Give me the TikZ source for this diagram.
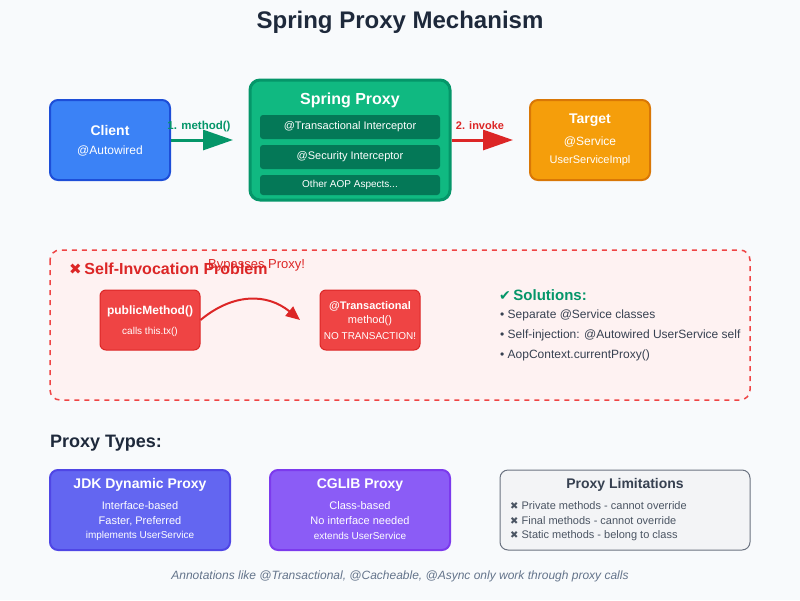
\documentclass[tikz,border=0pt]{standalone}
\usepackage{fontspec}
\setmainfont{Liberation Sans}
\newfontfamily\symfont{DejaVu Sans}
\usetikzlibrary{arrows.meta}
\definecolor{bgc}{HTML}{F8FAFC}
\definecolor{titlec}{HTML}{1E293B}
\definecolor{blue1}{HTML}{3B82F6}
\definecolor{blue2}{HTML}{1D4ED8}
\definecolor{green1}{HTML}{10B981}
\definecolor{green2}{HTML}{059669}
\definecolor{green3}{HTML}{047857}
\definecolor{red1}{HTML}{EF4444}
\definecolor{red2}{HTML}{DC2626}
\definecolor{redbg}{HTML}{FEF2F2}
\definecolor{amber1}{HTML}{F59E0B}
\definecolor{amber2}{HTML}{D97706}
\definecolor{indigo1}{HTML}{6366F1}
\definecolor{indigo2}{HTML}{4F46E5}
\definecolor{violet1}{HTML}{8B5CF6}
\definecolor{violet2}{HTML}{7C3AED}
\definecolor{grayfill}{HTML}{F3F4F6}
\definecolor{grayline}{HTML}{6B7280}
\definecolor{graytext}{HTML}{374151}
\definecolor{graytext2}{HTML}{4B5563}
\definecolor{foot}{HTML}{64748B}
\newcommand{\fs}[1]{\fontsize{#1}{#1}\selectfont}
\tikzset{
  box/.style={draw, line width=2pt, rounded corners=8pt, inner sep=0pt},
  bar/.style={fill=green3, rounded corners=3pt, inner sep=0pt, minimum width=180pt, text=white},
  txt/.style={inner sep=0pt, text=white},
}
\begin{document}
\begin{tikzpicture}[x=1pt,y=-1pt]
\fill[bgc] (0,0) rectangle (800,600);
\useasboundingbox (0,0) rectangle (800,600);
% title
\node[text=titlec, font=\fs{24}\bfseries] (title) at (400,22) {Spring Proxy Mechanism};

% client
\node[box, fill=blue1, draw=blue2, minimum width=120pt, minimum height=80pt] (client) at (110,140) {};
\node[txt, font=\fs{14}\bfseries] (clientt) at (110,130) {Client};
\node[txt, font=\fs{12}] (clienta) at (110,151) {@Autowired};

% spring proxy
\node[box, fill=green1, draw=green2, line width=3pt, rounded corners=10pt, minimum width=200pt, minimum height=120pt] (proxy) at (350,140) {};
\node[txt, font=\fs{16}\bfseries] (proxyt) at (350,100) {Spring Proxy};
\node[bar, minimum height=24pt, font=\fs{11}] (b1) at (350,127) {@Transactional Interceptor};
\node[bar, minimum height=24pt, font=\fs{11}] (b2) at (350,157) {@Security Interceptor};
\node[bar, minimum height=20pt, font=\fs{10}] (b3) at (350,185) {Other AOP Aspects...};

% target
\node[box, fill=amber1, draw=amber2, minimum width=120pt, minimum height=80pt] (target) at (590,140) {};
\node[txt, font=\fs{14}\bfseries] (targett) at (590,120) {Target};
\node[txt, font=\fs{12}] (targets) at (590,142) {@Service};
\node[txt, font=\fs{11}] (targeti) at (590,161) {UserServiceImpl};

% arrows
\coordinate (a1e) at (233,140);
\coordinate (a2e) at (513,140);
\draw[green2, line width=3pt, -{Triangle[length=30pt,width=20pt]}] (client.east) -- (a1e);
\draw[red2, line width=3pt, -{Triangle[length=30pt,width=20pt]}] (proxy.east) -- (a2e);
\node[text=green2, font=\fs{11.5}\bfseries] (l1) at (199,127) {1. method()};
\node[text=red2, font=\fs{11}\bfseries] (l2) at (480,126) {2. invoke};

% self-invocation panel
\draw[red1, fill=redbg, line width=1.5pt, dash pattern=on 5pt off 5pt, rounded corners=10pt] (50,250) rectangle (750,400);
\node[anchor=west, inner sep=0pt, text=red2, font=\fs{16}\bfseries] (sitl) at (69,269) {{\symfont\fs{15}✖}\,Self-Invocation Problem};
\node[anchor=west, inner sep=0pt, text=red2, font=\fs{13}] (bypass) at (208,265) {Bypasses Proxy!};

\node[box, fill=red1, draw=red2, line width=1pt, rounded corners=6pt, minimum width=100pt, minimum height=60pt] (pm) at (150,320) {};
\node[txt, font=\fs{12}\bfseries] (pmt) at (150,311) {publicMethod()};
\node[txt, font=\fs{10}] (pmc) at (150,332) {calls this.tx()};

\node[box, fill=red1, draw=red2, line width=1pt, rounded corners=6pt, minimum width=100pt, minimum height=60pt] (tm) at (370,320) {};
\node[txt, font=\fs{11}\bfseries] (tmt) at (370,306) {@Transactional};
\node[txt, font=\fs{11}] (tmm) at (370,321) {method()};
\node[txt, font=\fs{10}] (tmn) at (370,336) {NO TRANSACTION!};

\coordinate (curvee) at (300,320);
\draw[red2, line width=2pt, -{Triangle[length=14pt,width=12pt]}] (pm.east) .. controls (233,293) and (267,293) .. (curvee);

% solutions
\node[anchor=west, inner sep=0pt, text=green2, font=\fs{15}\bfseries] (sol) at (499,295) {{\symfont\fs{14}✔}\,Solutions:};
\node[anchor=west, inner sep=0pt, text=graytext, font=\fs{12}] (s1) at (500,315) {• Separate @Service classes};
\node[anchor=west, inner sep=0pt, text=graytext, font=\fs{12}] (s2) at (500,335) {• Self-injection: @Autowired UserService self};
\node[anchor=west, inner sep=0pt, text=graytext, font=\fs{12}] (s3) at (500,355) {• AopContext.currentProxy()};

% proxy types
\node[anchor=west, inner sep=0pt, text=titlec, font=\fs{18}\bfseries] (pt) at (50,443) {Proxy Types:};

\node[box, fill=indigo1, draw=indigo2, minimum width=180pt, minimum height=80pt] (jdk) at (140,510) {};
\node[txt, font=\fs{14}\bfseries] (jdkt) at (140,485) {JDK Dynamic Proxy};
\node[txt, font=\fs{11}] (jdk1) at (140,506) {Interface-based};
\node[txt, font=\fs{11}] (jdk2) at (140,521) {Faster, Preferred};
\node[txt, font=\fs{10}] (jdk3) at (140,536) {implements UserService};

\node[box, fill=violet1, draw=violet2, minimum width=180pt, minimum height=80pt] (cg) at (360,510) {};
\node[txt, font=\fs{14}\bfseries] (cgt) at (360,485) {CGLIB Proxy};
\node[txt, font=\fs{11}] (cg1) at (360,506) {Class-based};
\node[txt, font=\fs{11}] (cg2) at (360,521) {No interface needed};
\node[txt, font=\fs{10}] (cg3) at (360,536) {extends UserService};

\node[box, fill=grayfill, draw=grayline, line width=1pt, minimum width=250pt, minimum height=80pt] (lim) at (625,510) {};
\node[inner sep=0pt, text=graytext, font=\fs{14}\bfseries] (limt) at (625,485) {Proxy Limitations};
\node[anchor=west, inner sep=0pt, text=graytext2, font=\fs{11}] (lim1) at (510,506) {{\symfont\fs{10}✖} Private methods - cannot override};
\node[anchor=west, inner sep=0pt, text=graytext2, font=\fs{11}] (lim2) at (510,521) {{\symfont\fs{10}✖} Final methods - cannot override};
\node[anchor=west, inner sep=0pt, text=graytext2, font=\fs{11}] (lim3) at (510,536) {{\symfont\fs{10}✖} Static methods - belong to class};

% footer
\node[text=foot, font=\fs{12}\itshape] (footer) at (400,576) {Annotations like @Transactional, @Cacheable, @Async only work through proxy calls};
\end{tikzpicture}
\end{document}
